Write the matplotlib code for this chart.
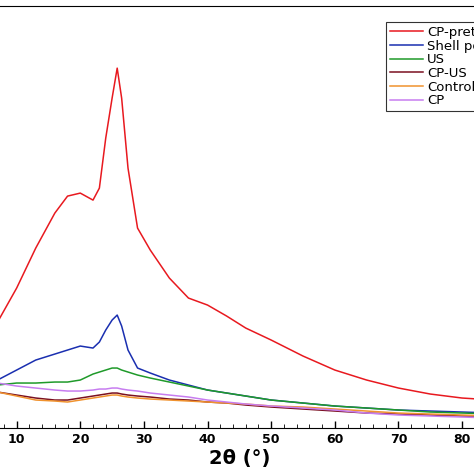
import matplotlib
matplotlib.use("Agg")
import matplotlib.pyplot as plt

two_theta = [5, 7, 10, 13, 16, 18, 20, 22, 23, 24, 25, 25.8, 26.5, 27.5, 29, 31, 34, 37, 40, 43, 46, 50, 55, 60, 65, 70, 75, 80, 85]
cp_pretreated = [95, 106, 140, 180, 215, 232, 235, 228, 240, 290, 330, 360, 330, 260, 200, 178, 150, 130, 123, 112, 100, 88, 72, 58, 48, 40, 34, 30, 28]
shell_powder = [44, 48, 58, 68, 74, 78, 82, 80, 86, 98, 108, 113, 102, 78, 60, 55, 48, 43, 38, 35, 32, 28, 25, 22, 20, 18, 17, 16, 15]
us = [40, 43, 45, 45, 46, 46, 48, 54, 56, 58, 60, 60, 58, 56, 53, 50, 46, 42, 38, 35, 32, 28, 25, 22, 20, 18, 16, 15, 14]
cp_us = [34, 36, 33, 30, 28, 28, 30, 32, 33, 34, 35, 35, 34, 33, 32, 31, 29, 28, 26, 25, 23, 21, 19, 17, 15, 14, 13, 12, 12]
control = [34, 36, 32, 28, 27, 26, 28, 30, 31, 32, 33, 33, 32, 31, 30, 29, 28, 27, 26, 25, 24, 22, 21, 19, 17, 15, 14, 13, 12]
cp = [42, 45, 42, 40, 38, 37, 37, 38, 39, 39, 40, 40, 39, 38, 37, 35, 33, 31, 28, 26, 24, 22, 20, 18, 15, 13, 12, 11, 10]

labels = ["CP-pretreated", "Shell powder", "US", "CP-US", "Control", "CP"]
series = [cp_pretreated, shell_powder, us, cp_us, control, cp]
colors = ["#e8191f", "#1a2fb0", "#1f9a2a", "#7a1020", "#f0922e", "#c77df0"]

fig = plt.figure(figsize=(4.74, 4.74), dpi=100)
ax = fig.add_axes([-0.032, 0.097, 1.074, 0.89])
for y, lab, c in zip(series, labels, colors):
    ax.plot(two_theta, y, color=c, lw=1.1, label=lab)
ax.set_xlim(5, 85)
ax.set_ylim(0, 422)
ax.set_yticks([])
ax.set_xticks(range(10, 81, 10))
ax.set_xticks(range(6, 85, 2), minor=True)
ax.tick_params(axis="x", direction="in", length=5, width=1, labelsize=9)
ax.tick_params(axis="x", which="minor", direction="in", length=3)
for t in ax.get_xticklabels():
    t.set_fontweight("bold")
ax.set_xlabel("2θ (°)", fontsize=14, fontweight="bold", labelpad=2)
leg = ax.legend(loc="upper left", bbox_to_anchor=(0.776, 0.978), frameon=True, fancybox=False,
                edgecolor="black", fontsize=9.5, handlelength=2.5, borderpad=0.3, labelspacing=0.05,
                handletextpad=0.3)
leg.get_frame().set_linewidth(0.8)
fig.savefig("out.png", dpi=100)
